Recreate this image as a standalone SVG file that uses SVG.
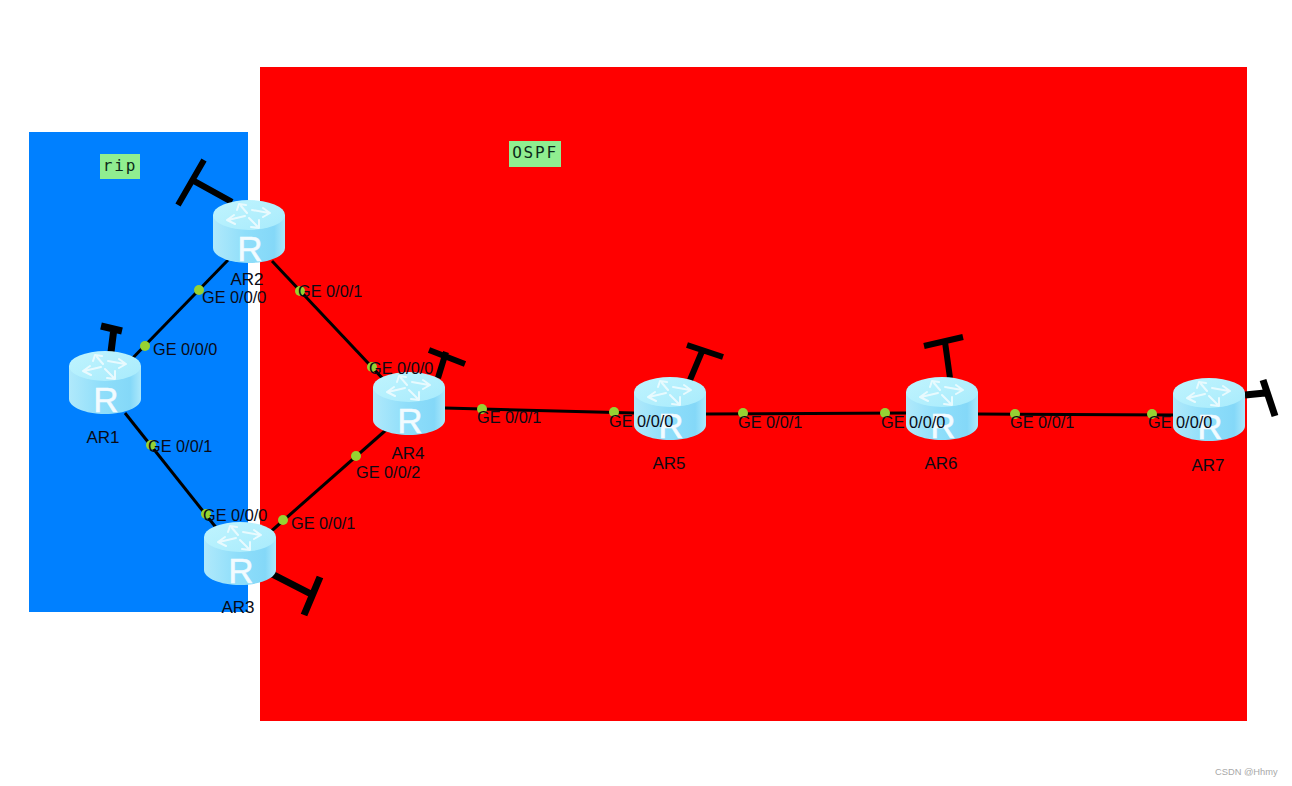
<svg xmlns="http://www.w3.org/2000/svg" width="1292" height="786" viewBox="0 0 1292 786">
<style>
text{font-family:"Liberation Sans",Arial,sans-serif;fill:#0a0a14}
.if{font-size:16.300px}
.nm{font-size:17px;text-anchor:middle}
.r{font-size:35px;fill:#f2fbff;text-anchor:middle;stroke:#f2fbff;stroke-width:.5}
.tag{font-family:"DejaVu Sans Mono","Liberation Mono",monospace;font-size:16px;letter-spacing:1.800px;text-anchor:middle;fill:#0d2a1a}
.tagbox{fill:#90ee90}
.link{stroke:#000;stroke-width:3;fill:none}
.stub{stroke:#000;stroke-width:6;fill:none}
.thick{stroke-width:7}
.dot{fill:#96d232}
</style>
<defs>
<linearGradient id="body" x1="0" x2="1" y1="0" y2="0">
<stop offset="0" stop-color="#b0e9fb"/><stop offset=".45" stop-color="#8fdefa"/><stop offset=".85" stop-color="#84d8f8"/><stop offset="1" stop-color="#ace8fb"/>
</linearGradient>
<linearGradient id="top" x1="0" x2="1" y1="0" y2="1">
<stop offset="0" stop-color="#c0f4fe"/><stop offset="1" stop-color="#a8ebfc"/>
</linearGradient>
<g id="router">
<path d="M0 15V48C0 56 16 63 36 63S72 56 72 48V15Z" fill="url(#body)"/>
<ellipse cx="36" cy="15" rx="36" ry="15" fill="url(#top)"/>
<g fill="none" stroke="#eefcff" stroke-width="2" stroke-linecap="round" stroke-linejoin="round" opacity=".9">
<path d="M34 13L28 6M24 10L26 4L33 5"/>
<path d="M39 10L56 13M50 8L57 13L50 17"/>
<path d="M32 16L15 20M21 15L14 20L22 24"/>
<path d="M36 18L45 27M38 27L46 28L46 20"/>
</g>
</g>
</defs>
<rect width="1292" height="786" fill="#fff"/>
<rect x="29" y="132" width="219" height="480" fill="#0080ff"/>
<rect x="260" y="67" width="987" height="654" fill="#ff0000"/>
<g id="tag-rip"><rect class="tagbox" x="100" y="154" width="40" height="25"/><text class="tag" x="120" y="171">rip</text></g>
<g id="tag-ospf"><rect class="tagbox" x="509" y="141" width="52" height="26"/><text class="tag" x="535" y="158">OSPF</text></g>
<g id="connectors">
<path class="link" d="M125 366L228 260"/>
<path class="link" d="M125 413L218 530"/>
<path class="link" d="M272 261L385 381"/>
<path class="link" d="M268 534L386 430"/>
<path class="link" d="M445 408L634 413"/>
<path class="link" d="M706 414L906 413"/>
<path class="link" d="M978 414L1173 415"/>
<path class="stub" d="M232 202L194 181M204 160L178 205"/>
<path class="stub thick" d="M111 352L114 328M101 326L122 331"/>
<path class="stub thick" d="M272 574L311 594M320 577L304 615"/>
<path class="stub" d="M438 378L446 352M429 350L465 364"/>
<path class="stub" d="M690 380L703 349M687 345L723 357"/>
<path class="stub" d="M950 378L945 342M924 346L963 337"/>
<path class="stub thick" d="M1245 395L1265 393M1263 380L1275 416"/>
<circle class="dot" cx="145" cy="346" r="5"/><circle class="dot" cx="199" cy="290" r="5"/>
<circle class="dot" cx="151" cy="445" r="5"/><circle class="dot" cx="206" cy="514" r="5"/>
<circle class="dot" cx="300" cy="291" r="5"/><circle class="dot" cx="372" cy="367" r="5"/>
<circle class="dot" cx="356" cy="456" r="5"/><circle class="dot" cx="283" cy="520" r="5"/>
<circle class="dot" cx="482" cy="409" r="5"/><circle class="dot" cx="614" cy="412" r="5"/>
<circle class="dot" cx="743" cy="413" r="5"/><circle class="dot" cx="885" cy="413" r="5"/>
<circle class="dot" cx="1015" cy="414" r="5"/><circle class="dot" cx="1152" cy="414" r="5"/>
</g>
<g id="AR1"><use href="#router" x="69" y="351"/><text class="r" x="106" y="412">R</text><text class="nm" x="103" y="443">AR1</text></g>
<g id="AR2"><use href="#router" x="213" y="200"/><text class="r" x="250" y="261">R</text><text class="nm" x="247" y="285">AR2</text></g>
<g id="AR3"><use href="#router" x="204" y="522"/><text class="r" x="241" y="583">R</text><text class="nm" x="238" y="613">AR3</text></g>
<g id="AR4"><use href="#router" x="373" y="372"/><text class="r" x="410" y="433">R</text><text class="nm" x="408" y="459">AR4</text></g>
<g id="AR5"><use href="#router" x="634" y="377"/><text class="r" x="671" y="438">R</text><text class="nm" x="669" y="469">AR5</text></g>
<g id="AR6"><use href="#router" x="906" y="377"/><text class="r" x="943" y="438">R</text><text class="nm" x="941" y="469">AR6</text></g>
<g id="AR7"><use href="#router" x="1173" y="378"/><text class="r" x="1210" y="439">R</text><text class="nm" x="1208" y="471">AR7</text></g>
<g id="labels">
<text class="if" x="153" y="355">GE 0/0/0</text>
<text class="if" x="202" y="303">GE 0/0/0</text>
<text class="if" x="148" y="452">GE 0/0/1</text>
<text class="if" x="203" y="521">GE 0/0/0</text>
<text class="if" x="298" y="297">GE 0/0/1</text>
<text class="if" x="369" y="374">GE 0/0/0</text>
<text class="if" x="356" y="478">GE 0/0/2</text>
<text class="if" x="291" y="529">GE 0/0/1</text>
<text class="if" x="477" y="423">GE 0/0/1</text>
<text class="if" x="609" y="427">GE 0/0/0</text>
<text class="if" x="738" y="428">GE 0/0/1</text>
<text class="if" x="881" y="428">GE 0/0/0</text>
<text class="if" x="1010" y="428">GE 0/0/1</text>
<text class="if" x="1148" y="428">GE 0/0/0</text>
</g>
<text x="1215" y="775" font-size="9.300" style="fill:#a8a8a8">CSDN @Hhmy</text>
</svg>
